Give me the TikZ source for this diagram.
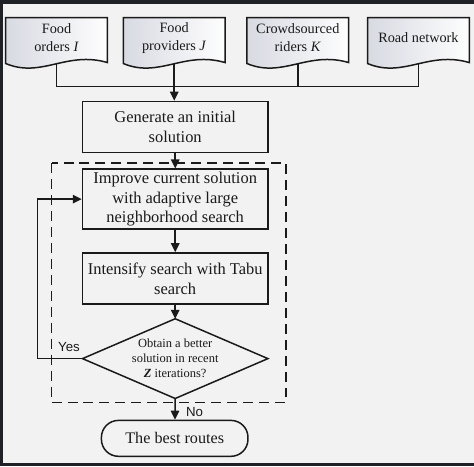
\documentclass[tikz,border=0pt]{standalone}
\usepackage{fontspec}
\setmainfont{Liberation Serif}
\newfontfamily\sansf{Liberation Sans}
\usetikzlibrary{arrows.meta,calc}
\definecolor{bgc}{HTML}{F2F2F2}
\definecolor{darkc}{HTML}{1E2227}
\definecolor{docl}{HTML}{D8DAE2}
\definecolor{ink}{HTML}{1A1A1A}
\newcommand\docbox[3]{%
  \draw[left color=docl, right color=white!97!docl]
    (#2,17) -- (#2+102,17) -- (#2+102,62)
    .. controls (#2+61,50) and (#2+36,78) .. (#2,63) -- cycle;
  \node[docnode] (#1) at (#2+51,37) {#3};
  \coordinate (#1b) at (#2+51,63);
}
\begin{document}
\begin{tikzpicture}[x=1pt,y=-1pt, line width=1.5pt, draw=ink, text=ink,
  every path/.style={draw=ink},
  arr/.style={-{Triangle[length=9pt,width=8.5pt]}},
  docnode/.style={inner sep=0pt, align=center, font=\fontsize{14.3}{18}\selectfont},
  procbox/.style={draw, rectangle, minimum width=186pt, inner sep=0pt, align=center, font=\fontsize{16.5}{20}\selectfont},
  lbl/.style={inner sep=0pt, font=\sansf\fontsize{13.3}{15}\selectfont}]
\useasboundingbox (0,0) rectangle (474,466);
\fill[darkc] (0,0) rectangle (474,466);
\fill[bgc] (3,4) rectangle (474,463);

\docbox{d1}{5}{Food\\orders \textit{I}}
\docbox{d2}{123}{Food\\providers \textit{J}}
\docbox{d3}{247}{Crowdsourced\\riders \textit{K}}
\docbox{d4}{368}{Road network}

\node[procbox, minimum height=51pt] (gen) at (175,126.5) {Generate an initial\\solution};
\node[procbox, minimum height=60pt] (imp) at (175,199) {Improve current solution\\with adaptive large\\neighborhood search};
\node[procbox, minimum height=51pt] (tabu) at (175,278.5) {Intensify search with Tabu\\search};

\coordinate (dT) at (175,319);
\coordinate (dR) at (268,359);
\coordinate (dB) at (175,399);
\coordinate (dL) at (82,359);
\draw (dT) -- (dR) -- (dB) -- (dL) -- cycle;
\node[inner sep=0pt, align=center, font=\fontsize{12.5}{15}\selectfont] (cond) at (175,359)
  {Obtain a better\\solution in recent\\\textbf{\textit{Z}} iterations?};

\node[draw, rectangle, rounded corners=17pt, minimum width=147pt, minimum height=36pt,
  inner sep=0pt, font=\fontsize{16.2}{20}\selectfont] (best) at (174.5,439) {The best routes};

\draw[dashed, dash pattern=on 10pt off 6pt, line width=1.8pt] (51,163) rectangle (286,403);

% input bus
\coordinate (bus) at (0,86);
\draw (d1b) |- (d4b |- bus) -- (d4b);
\draw (d3b) -- (d3b |- bus);
\draw[arr] (d2b) -- (d2b |- gen.north);

\draw[arr] (gen) -- (imp);
\draw[arr] (imp) -- (tabu);
\draw[arr] (tabu) -- (dT);
\draw[arr] (dL) -- ++(-45,0) |- (imp.west);
\draw[arr] (dB) -- (best);

\node[lbl] (yes) at (68.5,347) {Yes};
\node[lbl] (no) at (194.5,413) {No};
\end{tikzpicture}
\end{document}
